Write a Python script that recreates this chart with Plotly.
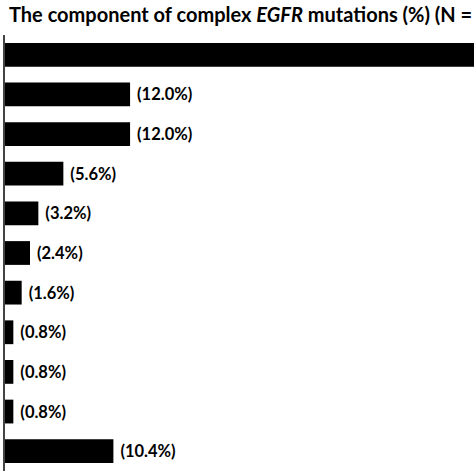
import plotly.graph_objects as go

# complex EGFR mutation components, top to bottom (N = 125)
categories = ["c1", "c2", "c3", "c4", "c5", "c6", "c7", "c8", "c9", "c10", "c11"]
percent = [50.4, 12.0, 12.0, 5.6, 3.2, 2.4, 1.6, 0.8, 0.8, 0.8, 10.4]
labels = ["\u00a0(%.1f%%)" % p for p in percent]

fig = go.Figure(go.Bar(
    x=percent,
    y=categories,
    orientation="h",
    marker=dict(color="black", line=dict(width=0)),
    text=labels,
    textposition="outside",
    textfont=dict(family="Lato", size=16.5, color="black", weight="bold"),
    cliponaxis=True,
    width=0.6,
))

fig.add_annotation(
    text="The component of complex <i>EGFR</i> mutations (%) (N = 125)",
    xref="paper", yref="paper", x=0, y=1, xshift=2, yshift=7,
    xanchor="left", yanchor="bottom", showarrow=False,
    font=dict(family="Lato", size=20, color="black", weight="bold"),
)

fig.update_layout(
    width=474, height=474,
    margin=dict(l=5, r=0, t=35, b=3),
    plot_bgcolor="white", paper_bgcolor="white",
    showlegend=False,
    bargap=0.4,
)
fig.update_xaxes(range=[0, 45], visible=False)
fig.update_yaxes(
    categoryorder="array", categoryarray=categories[::-1],
    showticklabels=False, ticks="", showgrid=False,
    showline=True, linecolor="#444", linewidth=2,
)

# drop the browser's default page margin so the figure sits at the corner
fig.write_html("out.html", config={"displayModeBar": False},
               post_script="document.body.style.margin='0';")
